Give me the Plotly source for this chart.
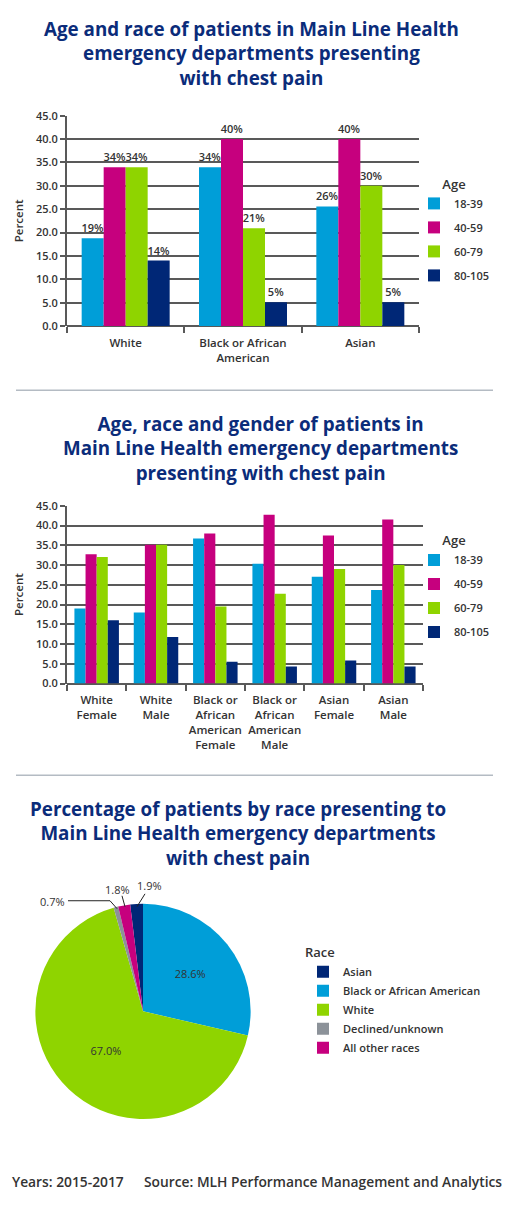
import plotly.graph_objects as go

# ---- data -------------------------------------------------------------
age_groups = ['18-39', '40-59', '60-79', '80-105']
age_colors = ['#009ed8', '#c6007e', '#8fd400', '#002776']

race_cats = ['White', 'Black or African<br>American', 'Asian']
race_age = {
    '18-39': [18.8, 34.0, 25.6],
    '40-59': [34.0, 40.0, 40.0],
    '60-79': [34.0, 20.9, 30.0],
    '80-105': [14.0, 5.1, 5.1],
}

gender_cats = ['White<br>Female', 'White<br>Male',
               'Black or<br>African<br>American<br>Female',
               'Black or<br>African<br>American<br>Male',
               'Asian<br>Female', 'Asian<br>Male']
gender_age = {
    '18-39': [19.0, 18.0, 36.7, 30.3, 27.0, 23.7],
    '40-59': [32.7, 35.1, 38.0, 42.7, 37.5, 41.5],
    '60-79': [32.0, 35.1, 19.5, 22.7, 29.0, 30.0],
    '80-105': [16.0, 11.8, 5.5, 4.3, 5.8, 4.3],
}

pie_labels = ['Asian', 'Black or African American', 'White',
              'Declined/unknown', 'All other races']
pie_values = [1.9, 28.6, 67.0, 0.7, 1.8]
pie_colors = ['#002776', '#009ed8', '#8fd400', '#8c9299', '#c6007e']

# page is 510x1210; the browser body keeps an 8px margin round the figure
OFF = 8
W, H = 510 - 2 * OFF, 1210 - 2 * OFF
FONT = 'Open Sans'
NAVY = '#0b2c7a'
TXT = '#333333'
GRID = '#595959'


def px(x):
    return (x - OFF) / W


def py(y):
    return 1 - (y - OFF) / H


fig = go.Figure()

# ---- top chart: age and race -------------------------------------------
for age, col in zip(age_groups, age_colors):
    fig.add_trace(go.Bar(x=race_cats, y=race_age[age], name=age,
                         marker_color=col, marker_line_width=0,
                         text=race_age[age], texttemplate='%{y:.0f}%',
                         textposition='outside', constraintext='none',
                         cliponaxis=False,
                         textfont=dict(size=11, color=TXT, weight=600),
                         legend='legend', legendgroup='a_' + age,
                         xaxis='x', yaxis='y'))

# ---- middle chart: age, race and gender --------------------------------
for age, col in zip(age_groups, age_colors):
    fig.add_trace(go.Bar(x=gender_cats, y=gender_age[age], name=age,
                         marker_color=col, marker_line_width=0,
                         legend='legend2', legendgroup='b_' + age,
                         xaxis='x2', yaxis='y2'))

# ---- pie: race -----------------------------------------------------------
total = sum(pie_values)
fig.add_trace(go.Pie(labels=pie_labels, values=pie_values, sort=False,
                     direction='clockwise',
                     rotation=-pie_values[0] / total * 360,
                     marker=dict(colors=pie_colors, line=dict(width=0)),
                     textposition=['none', 'inside', 'inside', 'none', 'none'],
                     texttemplate='%{value:.1f}%',
                     insidetextorientation='horizontal',
                     textfont=dict(size=11, color=TXT, weight=500),
                     domain=dict(x=[px(34), px(252)], y=[py(1125), py(907)]),
                     legend='legend3', hoverinfo='label+value'))

# small slice labels with leader lines
small = [(0.7, 52, 905), (1.8, 117, 893), (1.9, 149, 889)]
for val, lx, ly in small:
    fig.add_annotation(x=px(lx), y=py(ly), xref='paper', yref='paper',
                       text='%.1f%%' % val, showarrow=False,
                       xanchor='center', yanchor='middle',
                       font=dict(size=11, color=TXT, weight=500))
leaders = [
    'M %f,%f L %f,%f L %f,%f' % (px(68), py(904), px(110), py(904), px(117), py(912)),
    'M %f,%f L %f,%f' % (px(122), py(899), px(125), py(910)),
    'M %f,%f L %f,%f' % (px(145), py(897), px(137), py(910)),
]
for p in leaders:
    fig.add_shape(type='path', path=p, xref='paper', yref='paper',
                  line=dict(color='#222222', width=1))

# ---- axes ----------------------------------------------------------------
tickfont = dict(family=FONT, size=11, color=TXT, weight=600)
catfont = dict(family=FONT, size=11.5, color=TXT, weight=600)
yax = dict(range=[0, 45], dtick=5, tickformat='.1f', showgrid=True,
           gridcolor=GRID, gridwidth=2, zeroline=True, zerolinecolor=GRID,
           zerolinewidth=2, showline=True, linecolor=GRID, linewidth=2,
           ticks='outside', ticklen=5, tickcolor=GRID, tickwidth=2,
           tickfont=tickfont, fixedrange=True,
           title=dict(text='Percent', standoff=10,
                      font=dict(family=FONT, size=11.5, color=TXT, weight=600)))
xax = dict(tickson='boundaries', ticks='outside', ticklen=6, tickcolor=GRID,
           tickwidth=2, showline=False, tickangle=0, tickfont=catfont,
           ticklabelstandoff=8, fixedrange=True)

fig.update_layout(
    xaxis=dict(domain=[px(67), px(419)], anchor='y', **xax),
    yaxis=dict(domain=[py(322), py(109)], anchor='x', **yax),
    xaxis2=dict(domain=[px(67), px(423)], anchor='y2', **xax),
    yaxis2=dict(domain=[py(684), py(504)], anchor='x2', **yax),
)

legend_common = dict(xanchor='left', yanchor='top', tracegroupgap=5,
                     bgcolor='rgba(0,0,0,0)', itemclick=False,
                     font=dict(family=FONT, size=11, color=TXT, weight=600))
fig.update_layout(
    legend=dict(x=px(414), y=py(166),
                title=dict(text='Age', side='top center', font=dict(size=13)),
                **legend_common),
    legend2=dict(x=px(414), y=py(527),
                 title=dict(text='Age', side='top center', font=dict(size=13)),
                 **legend_common),
    legend3=dict(x=px(303), y=py(944),
                 title=dict(text='Race', font=dict(size=13)),
                 **legend_common),
)

# ---- titles, dividers, footer ---------------------------------------------
titles = [
    ('Age and race of patients in Main Line Health<br>'
     'emergency departments presenting<br>with chest pain', 251, 46),
    ('Age, race and gender of patients in<br>'
     'Main Line Health emergency departments<br>'
     'presenting with chest pain', 260, 446),
    ('Percentage of patients by race presenting to<br>'
     'Main Line Health emergency departments<br>with chest pain', 238, 836),
]
for txt, tx, ty in titles:
    fig.add_annotation(x=px(tx), y=py(ty), xref='paper', yref='paper',
                       text=txt, showarrow=False, align='center',
                       xanchor='center', yanchor='middle',
                       font=dict(family=FONT, size=18.8, color=NAVY, weight=700))

for ly in [387, 777]:
    fig.add_shape(type='line', xref='paper', yref='paper',
                  x0=px(16), x1=px(493), y0=py(ly), y1=py(ly),
                  line=dict(color='#b4bbc3', width=1.5))

fig.add_annotation(x=px(10), y=py(1188), xref='paper', yref='paper',
                   text='Years: 2015-2017', showarrow=False,
                   xanchor='left', yanchor='middle',
                   font=dict(family=FONT, size=13.8, color=TXT, weight=600))
fig.add_annotation(x=px(142), y=py(1188), xref='paper', yref='paper',
                   text='Source: MLH Performance Management and Analytics',
                   showarrow=False, xanchor='left', yanchor='middle',
                   font=dict(family=FONT, size=13.8, color=TXT, weight=600))

fig.update_layout(
    width=W, height=H, margin=dict(l=0, r=0, t=0, b=0),
    paper_bgcolor='white', plot_bgcolor='white',
    barmode='group', bargap=0.25, bargroupgap=0,
    font=dict(family=FONT, color=TXT),
    showlegend=True,
)

fig.write_html('out.html')
